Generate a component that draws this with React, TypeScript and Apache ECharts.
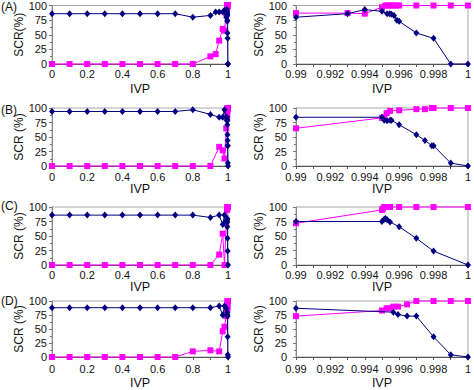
import React, { useEffect, useRef } from "react";
import * as echarts from "echarts";

// ---------- data ----------
const panelLabels = ["(A)", "(B)", "(C)", "(D)"];
const yNames = ["SCR(%)", "SCR (%)", "SCR (%)", "SCR (%)"];
const xLabel = "IVP";

// coarse points (whole IVP range)
const coarseX = [0, 0.1, 0.2, 0.3, 0.4, 0.5, 0.6, 0.7, 0.8, 0.9, 0.93, 0.95, 0.97, 0.98];
const coarseXB = [0, 0.1, 0.2, 0.3, 0.4, 0.5, 0.6, 0.7, 0.8, 0.9, 0.95, 0.97, 0.98];

const aBlueCoarse = [86, 86, 86, 86, 86, 86, 86, 86, 80, 83, 89, 89, 89, 92];
const aPinkCoarse = [0, 0, 0, 0, 0, 0, 0, 0, 0, 13, 17, 40, 60, 57];
const bBlueCoarse = [94, 94, 94, 94, 94, 94, 94, 94, 97, 89, 84, 84, 97];
const bPinkCoarse = [0, 0, 0, 0, 0, 0, 0, 0, 0, 0, 33, 27, 13];
const cBlueCoarse = [86, 86, 86, 86, 86, 86, 86, 86, 86, 82, 86, 70, 86];
const cPinkCoarse = [0, 0, 0, 0, 0, 0, 0, 0, 0, 0, 18, 54, 0];
const dBlueCoarse = [88, 88, 88, 88, 88, 88, 88, 88, 88, 88, 91, 75, 91];
const dPinkCoarse = [0, 0, 0, 0, 0, 0, 0, 0, 10, 12, 10, 46, 54];

// fine points (IVP 0.99 - 1)
const aBlueX = [0.99, 0.993, 0.994, 0.995, 0.9953, 0.99545, 0.99555, 0.9957, 0.99587, 0.996, 0.997, 0.998, 0.999, 1];
const aBlue = [80, 86, 93, 90, 86, 86, 85, 83, 75, 73, 53, 44, 0, 0];
const aPinkX = [0.99, 0.993, 0.994, 0.995, 0.9952, 0.99535, 0.9955, 0.99565, 0.9958, 0.996, 0.997, 0.998, 0.999, 1];
const aPink = [87, 87, 86, 97, 100, 100, 100, 100, 100, 100, 100, 100, 100, 100];

const bBlueX = [0.99, 0.995, 0.99513, 0.9953, 0.99547, 0.99555, 0.996, 0.997, 0.9975, 0.9979, 0.998, 0.999, 1];
const bBlue = [84, 84, 79, 78, 79, 79, 71, 54, 44, 35, 35, 5, 0];
const bPinkX = [0.99, 0.995, 0.99513, 0.99527, 0.99547, 0.996, 0.997, 0.9975, 0.9979, 0.998, 0.999, 1];
const bPink = [65, 83, 84, 91, 95, 96, 98, 98, 100, 100, 100, 100];

const cBlueX = [0.99, 0.995, 0.99513, 0.9952, 0.9953, 0.99547, 0.996, 0.997, 0.998, 1];
const cBlue = [75, 75, 79, 80, 78, 74, 66, 46, 24, 0];
const cPinkX = [0.99, 0.995, 0.99505, 0.99513, 0.9953, 0.99547, 0.996, 0.997, 0.998, 1];
const cPink = [72, 95, 97, 100, 100, 100, 100, 100, 100, 100];

const dBlueX = [0.99, 0.99566, 0.99593, 0.99646, 0.997, 0.998, 0.999, 1];
const dBlue = [87, 80, 76, 73, 73, 36, 4, 0];
const dPinkX = [0.99, 0.995, 0.99527, 0.9954, 0.99566, 0.99593, 0.99646, 0.997, 0.998, 0.999, 1];
const dPink = [73, 83, 87, 87, 90, 90, 94, 100, 100, 100, 100];

const panels = [
  { cx: coarseX, cb: aBlueCoarse, cp: aPinkCoarse, bx: aBlueX, b: aBlue, px: aPinkX, p: aPink },
  { cx: coarseXB, cb: bBlueCoarse, cp: bPinkCoarse, bx: bBlueX, b: bBlue, px: bPinkX, p: bPink },
  { cx: coarseXB, cb: cBlueCoarse, cp: cPinkCoarse, bx: cBlueX, b: cBlue, px: cPinkX, p: cPink },
  { cx: coarseXB, cb: dBlueCoarse, cp: dPinkCoarse, bx: dBlueX, b: dBlue, px: dPinkX, p: dPink },
];

// ---------- layout ----------
const rowLayout = [
  { top: 5, h: 59, lblY: 1, labelMargin: 4, nameGap: 18 },
  { top: 108, h: 58, lblY: 104, labelMargin: 5, nameGap: 12 },
  { top: 207, h: 58, lblY: 200, labelMargin: 4, nameGap: 12 },
  { top: 301, h: 59, lblY: 295, labelMargin: 6, nameGap: 19 },
];
const colLayout = [
  { left: 52, width: 176, yMargin: 5, yNameGap: 14 },
  { left: 296, width: 176, yMargin: 9, yNameGap: 22 },
];

const BLUE = "#000080";
const PINK = "#ff00ff";
const FONT = "Liberation Sans, Arial, sans-serif";
const fmt = (v: number) => String(parseFloat(v.toFixed(4)));

const zip = (xs: number[], ys: number[]) => xs.map((x, i) => [x, ys[i]]);

export default function App() {
  const ref = useRef<HTMLDivElement>(null);
  useEffect(() => {
    if (!ref.current) return;
    const chart = echarts.init(ref.current, null, { renderer: "svg" });
    const grid: any[] = [];
    const xAxis: any[] = [];
    const yAxis: any[] = [];
    const series: any[] = [];
    const graphic: any[] = [];
    rowLayout.forEach((r, ri) => {
      const pd = panels[ri];
      graphic.push({
        type: "text",
        left: 1,
        top: r.lblY,
        style: { text: panelLabels[ri], font: `12px ${FONT}`, fill: "#111" },
      });
      colLayout.forEach((c, ci) => {
        const gi = grid.length;
        grid.push({
          left: c.left,
          top: r.top,
          width: c.width,
          height: r.h,
          show: true,
          borderColor: "#a8a8a8",
          borderWidth: 1,
        });
        const fine = ci === 1;
        xAxis.push({
          type: "value",
          gridIndex: gi,
          min: fine ? 0.99 : 0,
          max: 1,
          interval: fine ? 0.002 : 0.2,
          name: xLabel,
          nameLocation: "middle",
          nameGap: r.nameGap,
          nameTextStyle: { fontFamily: FONT, fontSize: 12.5, color: "#111" },
          axisLine: { show: true, onZero: false, lineStyle: { color: "#555", width: 1 } },
          axisTick: { show: true, length: 3, lineStyle: { color: "#555" } },
          minorTick: { show: true, splitNumber: 2, length: 3, lineStyle: { color: "#555" } },
          splitLine: { show: false },
          axisLabel: {
            fontFamily: FONT,
            fontSize: 11,
            color: "#111",
            margin: r.labelMargin,
            formatter: (v: number) => fmt(v),
            showMinLabel: true,
            showMaxLabel: true,
          },
        });
        yAxis.push({
          type: "value",
          gridIndex: gi,
          min: 0,
          max: 100,
          interval: 25,
          name: yNames[ri],
          nameLocation: "middle",
          nameRotate: 90,
          nameGap: c.yNameGap,
          nameTextStyle: { fontFamily: FONT, fontSize: 12, color: "#111" },
          axisLine: { show: true, lineStyle: { color: "#888", width: 1 } },
          axisTick: { show: true, length: 3, lineStyle: { color: "#777" } },
          minorTick: { show: true, splitNumber: 2, length: 2, lineStyle: { color: "#777" } },
          splitLine: { show: false },
          axisLabel: { fontFamily: FONT, fontSize: 11, color: "#111", margin: c.yMargin },
        });
        const pinkData = fine
          ? zip(pd.px, pd.p)
          : zip(pd.cx, pd.cp).concat(zip(pd.px, pd.p));
        const blueData = fine
          ? zip(pd.bx, pd.b)
          : zip(pd.cx, pd.cb).concat(zip(pd.bx, pd.b));
        series.push({
          type: "line",
          xAxisIndex: gi,
          yAxisIndex: gi,
          data: pinkData,
          symbol: "rect",
          symbolSize: 6,
          showAllSymbol: true,
          lineStyle: { color: PINK, width: 1 },
          itemStyle: { color: PINK },
          clip: false,
          z: 2,
        });
        series.push({
          type: "line",
          xAxisIndex: gi,
          yAxisIndex: gi,
          data: blueData,
          symbol: "diamond",
          symbolSize: [6, 7],
          showAllSymbol: true,
          lineStyle: { color: BLUE, width: 1 },
          itemStyle: { color: BLUE },
          clip: false,
          z: 3,
        });
      });
    });
    chart.setOption({
      animation: false,
      backgroundColor: "#fff",
      textStyle: { fontFamily: FONT },
      grid,
      xAxis,
      yAxis,
      series,
      graphic,
    });
    return () => chart.dispose();
  }, []);
  return (
    <div
      ref={ref}
      style={{ position: "fixed", left: 0, top: 0, width: 474, height: 390 }}
    />
  );
}
